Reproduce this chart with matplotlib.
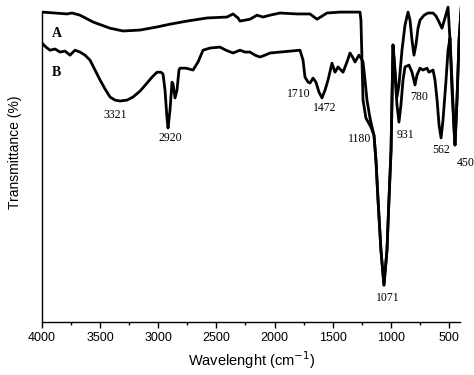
import numpy as np
import matplotlib
matplotlib.use("Agg")
import matplotlib.pyplot as plt
from matplotlib.ticker import MultipleLocator

# --- data (wavenumber cm-1, transmittance a.u.) ---
a_wn = [4000, 3888, 3785, 3742, 3673, 3561, 3415, 3303, 3157, 3011, 2899, 2753,
        2581, 2409, 2357, 2314, 2297, 2254, 2211, 2151, 2099, 2039, 1953, 1807,
        1695, 1635, 1592, 1549, 1437, 1265, 1257, 1248, 1239, 1214, 1171]
a_t = [100, 99.7, 99.4, 99.7, 99.0, 96.8, 94.8, 93.9, 94.2, 95.2, 96.1, 97.1,
       98.1, 98.4, 99.4, 98.1, 97.1, 97.4, 97.7, 99.0, 98.4, 99.0, 99.7, 99.4,
       99.4, 97.7, 98.7, 99.7, 100, 100, 97.4, 84.5, 71.6, 65.8, 62.9]

b_wn = [4000, 3966, 3931, 3888, 3845, 3802, 3759, 3716, 3673, 3630, 3587, 3544,
        3501, 3458, 3415, 3372, 3329, 3269, 3217, 3157, 3097, 3054, 3011, 2977,
        2959, 2942, 2925, 2916, 2899, 2882, 2873, 2856, 2839, 2822, 2813, 2762,
        2701, 2658, 2615, 2555, 2469, 2418, 2357, 2297, 2254, 2211, 2168, 2125,
        2082, 2039, 1953, 1867, 1781, 1755, 1738, 1712, 1695, 1669, 1644, 1618,
        1592, 1566, 1540, 1506, 1480, 1454, 1411, 1377, 1351, 1325, 1308, 1274,
        1257, 1239, 1222, 1205, 1179, 1162]
b_t = [90.0, 88.7, 87.7, 88.1, 87.1, 87.4, 86.1, 87.7, 87.1, 86.1, 84.5, 81.3,
       78.1, 75.2, 72.6, 71.6, 71.3, 71.6, 72.6, 74.5, 77.1, 79.0, 80.6, 80.6,
       80.0, 74.8, 65.8, 62.6, 68.4, 77.4, 76.8, 72.3, 74.8, 81.3, 81.9, 81.9,
       81.3, 83.9, 87.7, 88.4, 88.7, 87.7, 86.8, 87.7, 87.1, 87.1, 86.1, 85.5,
       86.1, 86.8, 87.1, 87.4, 87.7, 84.5, 79.0, 77.4, 77.1, 78.7, 77.4, 74.2,
       72.3, 74.8, 78.1, 83.5, 80.6, 82.3, 80.6, 83.9, 86.8, 85.2, 83.9, 86.1,
       85.2, 83.9, 78.1, 71.6, 65.8, 62.9]

# common Si-O-Si band region (both curves overlap)
mid_wn = [1145, 1128, 1110, 1085, 1059, 1033, 1016, 998, 990, 981]
mid_t = [60.3, 52.3, 39.4, 23.2, 11.9, 23.2, 39.4, 55.5, 71.6, 89.4]

a2_wn = [964, 947, 930, 904, 878, 852, 835, 818, 801, 784, 766, 749, 714, 680,
         637, 611, 585, 560, 534, 508, 491, 474]
a2_t = [81.3, 72.6, 76.5, 87.7, 95.8, 100, 97.4, 91.0, 86.1, 89.4, 94.8, 97.4,
        99.0, 99.7, 99.7, 98.7, 96.8, 94.8, 98.1, 101.6, 91.0, 74.8]

b2_wn = [964, 947, 930, 913, 895, 878, 844, 818, 792, 775, 749, 723, 689, 672,
         637, 620, 602, 585, 568, 551, 525, 508, 491, 474, 456]
b2_t = [79.7, 70.0, 64.5, 70.0, 78.1, 82.3, 82.9, 80.6, 76.5, 79.7, 81.9, 81.3,
        81.9, 80.6, 81.3, 78.1, 71.6, 63.5, 59.4, 65.2, 78.1, 87.7, 91.6, 78.1,
        61.9]

tail_wn = [448, 431, 413, 387]
tail_t = [57.1, 71.6, 91.0, 105.5]

peaks = ["3321", "2920", "1710", "1472", "1180", "1071", "931", "780", "562", "450"]
peak_x = [3372, 2899, 1790, 1566, 1265, 1024, 878, 758, 568, 354]
peak_y = [66.8, 59.4, 73.5, 69.0, 59.0, 7.7, 60.3, 72.6, 55.5, 51.3]

A_x = np.r_[a_wn, mid_wn, a2_wn, tail_wn]
A_y = np.r_[a_t, mid_t, a2_t, tail_t]
B_x = np.r_[b_wn, mid_wn, b2_wn, tail_wn]
B_y = np.r_[b_t, mid_t, b2_t, tail_t]

fig = plt.figure(figsize=(4.74, 3.75), dpi=100)
ax = fig.add_axes([42 / 474, 1 - 322 / 375, (460 - 42) / 474, 322 / 375])

ax.plot(A_x, A_y, color="black", lw=2.0, solid_joinstyle="round")
ax.plot(B_x, B_y, color="black", lw=2.0, solid_joinstyle="round")

serif = "Liberation Serif"
ax.text(3871, 93.2, "A", family=serif, fontweight="bold", fontsize=10, ha="center", va="center")
ax.text(3880, 80.6, "B", family=serif, fontweight="bold", fontsize=10, ha="center", va="center")
for lab, x, y in zip(peaks, peak_x, peak_y):
    ax.text(x, y, lab, family=serif, fontsize=8.5, ha="center", va="center", clip_on=False)

ax.set_xlim(4000, 405)
ax.set_ylim(0, 103.9)
ax.spines["top"].set_visible(False)
ax.spines["right"].set_visible(False)
ax.spines["left"].set_bounds(0, 100)
ax.spines["left"].set_linewidth(1.0)
ax.spines["bottom"].set_linewidth(1.0)
ax.set_yticks([])
ax.xaxis.set_major_locator(MultipleLocator(500))
ax.xaxis.set_minor_locator(MultipleLocator(250))
ax.tick_params(axis="x", which="major", direction="out", length=4, width=1,
               labelsize=9, pad=3)
ax.tick_params(axis="x", which="minor", direction="out", length=2.5, width=1)
for t in ax.get_xticklabels():
    t.set_family("Liberation Sans")

fig.text(252 / 474, 1 - 360 / 375, "Wavelenght (cm$^{-1}$)", family="Liberation Sans",
         fontsize=10.5, ha="center", va="center")
fig.text(15 / 474, 1 - 152 / 375, "Transmittance (%)", family="Liberation Sans",
         fontsize=10, ha="center", va="center", rotation=90)

fig.savefig("out.png", dpi=100)
